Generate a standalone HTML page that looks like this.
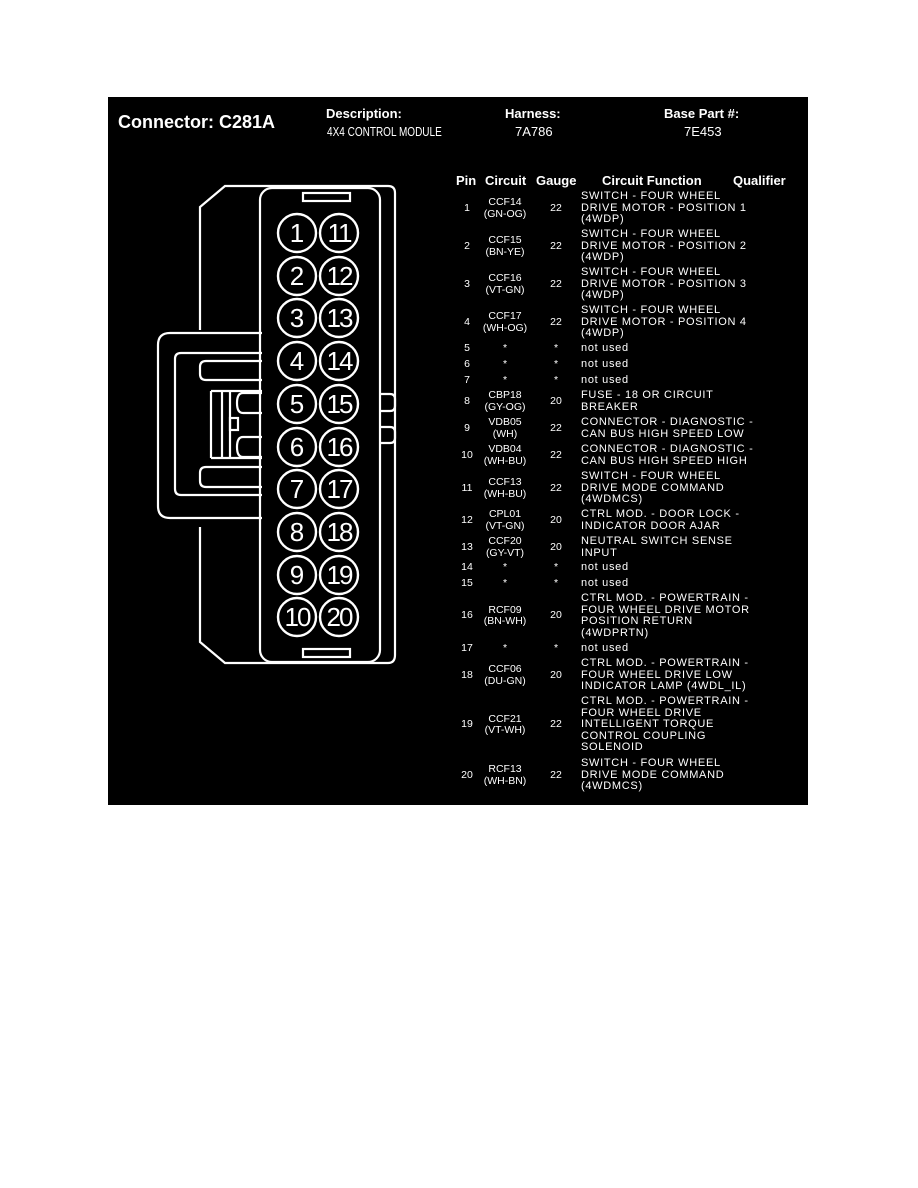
<!DOCTYPE html>
<html><head><meta charset="utf-8"><style>
body{margin:0;background:#fff;width:918px;height:1188px;position:relative;font-family:"Liberation Sans",Arial,sans-serif;}
#box{position:absolute;left:108px;top:97px;width:700px;height:708px;background:#000;color:#fff;overflow:hidden}
.t{position:absolute;white-space:nowrap}
.h{font-weight:bold;font-size:13px}
.r{position:absolute;left:0;width:700px;font-size:10.5px;line-height:11.5px}
.r div{position:absolute;top:0;bottom:0;display:flex;align-items:center;justify-content:center;text-align:center}
.r .p{left:344px;width:30px}
.r .c{left:370px;width:54px}
.r .g{left:433px;width:30px}
.r .f{left:473px;width:220px;justify-content:flex-start;text-align:left;white-space:nowrap;font-size:11px;letter-spacing:0.7px}
</style></head><body>
<div id="box">
<div class="t" style="left:10px;top:15px;font-size:18px;font-weight:bold">Connector: C281A</div>
<div class="t h" style="left:218px;top:9px">Description:</div>
<div class="t" style="left:219px;top:27px;font-size:13px;transform:scaleX(0.77);transform-origin:0 0">4X4 CONTROL MODULE</div>
<div class="t h" style="left:397px;top:9px">Harness:</div>
<div class="t" style="left:407px;top:27px;font-size:13px">7A786</div>
<div class="t h" style="left:556px;top:9px">Base Part #:</div>
<div class="t" style="left:576px;top:27px;font-size:13px">7E453</div>
<div class="t h" style="left:348px;top:76px">Pin</div>
<div class="t h" style="left:377px;top:76px">Circuit</div>
<div class="t h" style="left:428px;top:76px">Gauge</div>
<div class="t h" style="left:494px;top:76px">Circuit Function</div>
<div class="t h" style="left:625px;top:76px">Qualifier</div>

<svg style="position:absolute;left:0;top:0" width="700" height="708" viewBox="108 97 700 708" fill="none" stroke="#fff" stroke-width="2.2">
<path d="M200 330 V207 L225 186 H388 Q395 186 395 193 V655 Q395 663 388 663 H225 L200 642 V527"/>
<path d="M262 333 H170 Q158 333 158 345 V506 Q158 518 170 518 H262"/>
<path d="M262 353 H181 Q175 353 175 359 V489 Q175 495 181 495 H262"/>
<path d="M262 361 H206 Q200 361 200 367 V374 Q200 380 206 380 H262"/>
<path d="M262 467 H206 Q200 467 200 473 V481 Q200 487 206 487 H262"/>
<path d="M211 391 V458 M222 391 V458 M230 391 V458 M211 391 H262 M211 458 H262"/>
<path d="M262 393 H243 Q237 393 237 403 Q237 413 243 413 H262"/>
<path d="M262 437 H243 Q237 437 237 447 Q237 457 243 457 H262"/>
<rect x="230" y="418" width="8" height="12"/>
<rect x="260" y="188" width="120" height="474" rx="12"/>
<rect x="303" y="193" width="47" height="8"/>
<rect x="303" y="649" width="47" height="8"/>
<path d="M380 394 H390 Q395 394 395 399 V406 Q395 411 390 411 H380"/>
<path d="M380 427 H390 Q395 427 395 432 V438 Q395 443 390 443 H380"/>
<g stroke-width="2.4">
<circle cx="297" cy="233" r="19"/><circle cx="339" cy="233" r="19"/>
<circle cx="297" cy="276" r="19"/><circle cx="339" cy="276" r="19"/>
<circle cx="297" cy="318" r="19"/><circle cx="339" cy="318" r="19"/>
<circle cx="297" cy="361" r="19"/><circle cx="339" cy="361" r="19"/>
<circle cx="297" cy="404" r="19"/><circle cx="339" cy="404" r="19"/>
<circle cx="297" cy="447" r="19"/><circle cx="339" cy="447" r="19"/>
<circle cx="297" cy="489" r="19"/><circle cx="339" cy="489" r="19"/>
<circle cx="297" cy="532" r="19"/><circle cx="339" cy="532" r="19"/>
<circle cx="297" cy="575" r="19"/><circle cx="339" cy="575" r="19"/>
<circle cx="297" cy="617" r="19"/><circle cx="339" cy="617" r="19"/>
</g>
<g fill="#fff" stroke="none" font-family="Liberation Sans, Arial, sans-serif" font-size="26" text-anchor="middle">
<text x="297" y="242">1</text><text x="339" y="242" letter-spacing="-2">11</text>
<text x="297" y="285">2</text><text x="339" y="285" letter-spacing="-2">12</text>
<text x="297" y="327">3</text><text x="339" y="327" letter-spacing="-2">13</text>
<text x="297" y="370">4</text><text x="339" y="370" letter-spacing="-2">14</text>
<text x="297" y="413">5</text><text x="339" y="413" letter-spacing="-2">15</text>
<text x="297" y="456">6</text><text x="339" y="456" letter-spacing="-2">16</text>
<text x="297" y="498">7</text><text x="339" y="498" letter-spacing="-2">17</text>
<text x="297" y="541">8</text><text x="339" y="541" letter-spacing="-2">18</text>
<text x="297" y="584">9</text><text x="339" y="584" letter-spacing="-2">19</text>
<text x="297" y="626" letter-spacing="-2">10</text><text x="339" y="626" letter-spacing="-2">20</text>
</g>
</svg>

<div class="r" style="top:94px;height:35px"><div class="p">1</div><div class="c">CCF14<br>(GN-OG)</div><div class="g">22</div><div class="f">SWITCH - FOUR WHEEL<br>DRIVE MOTOR - POSITION 1<br>(4WDP)</div></div>
<div class="r" style="top:132px;height:35px"><div class="p">2</div><div class="c">CCF15<br>(BN-YE)</div><div class="g">22</div><div class="f">SWITCH - FOUR WHEEL<br>DRIVE MOTOR - POSITION 2<br>(4WDP)</div></div>
<div class="r" style="top:170px;height:35px"><div class="p">3</div><div class="c">CCF16<br>(VT-GN)</div><div class="g">22</div><div class="f">SWITCH - FOUR WHEEL<br>DRIVE MOTOR - POSITION 3<br>(4WDP)</div></div>
<div class="r" style="top:208px;height:35px"><div class="p">4</div><div class="c">CCF17<br>(WH-OG)</div><div class="g">22</div><div class="f">SWITCH - FOUR WHEEL<br>DRIVE MOTOR - POSITION 4<br>(4WDP)</div></div>
<div class="r" style="top:246px;height:12px"><div class="p">5</div><div class="c">*</div><div class="g">*</div><div class="f">not used</div></div>
<div class="r" style="top:262px;height:12px"><div class="p">6</div><div class="c">*</div><div class="g">*</div><div class="f">not used</div></div>
<div class="r" style="top:278px;height:12px"><div class="p">7</div><div class="c">*</div><div class="g">*</div><div class="f">not used</div></div>
<div class="r" style="top:293px;height:23px"><div class="p">8</div><div class="c">CBP18<br>(GY-OG)</div><div class="g">20</div><div class="f">FUSE - 18 OR CIRCUIT<br>BREAKER</div></div>
<div class="r" style="top:320px;height:23px"><div class="p">9</div><div class="c">VDB05<br>(WH)</div><div class="g">22</div><div class="f">CONNECTOR - DIAGNOSTIC -<br>CAN BUS HIGH SPEED LOW</div></div>
<div class="r" style="top:347px;height:23px"><div class="p">10</div><div class="c">VDB04<br>(WH-BU)</div><div class="g">22</div><div class="f">CONNECTOR - DIAGNOSTIC -<br>CAN BUS HIGH SPEED HIGH</div></div>
<div class="r" style="top:374px;height:35px"><div class="p">11</div><div class="c">CCF13<br>(WH-BU)</div><div class="g">22</div><div class="f">SWITCH - FOUR WHEEL<br>DRIVE MODE COMMAND<br>(4WDMCS)</div></div>
<div class="r" style="top:412px;height:23px"><div class="p">12</div><div class="c">CPL01<br>(VT-GN)</div><div class="g">20</div><div class="f">CTRL MOD. - DOOR LOCK -<br>INDICATOR DOOR AJAR</div></div>
<div class="r" style="top:439px;height:23px"><div class="p">13</div><div class="c">CCF20<br>(GY-VT)</div><div class="g">20</div><div class="f">NEUTRAL SWITCH SENSE<br>INPUT</div></div>
<div class="r" style="top:465px;height:12px"><div class="p">14</div><div class="c">*</div><div class="g">*</div><div class="f">not used</div></div>
<div class="r" style="top:481px;height:12px"><div class="p">15</div><div class="c">*</div><div class="g">*</div><div class="f">not used</div></div>
<div class="r" style="top:496px;height:46px"><div class="p">16</div><div class="c">RCF09<br>(BN-WH)</div><div class="g">20</div><div class="f">CTRL MOD. - POWERTRAIN -<br>FOUR WHEEL DRIVE MOTOR<br>POSITION RETURN<br>(4WDPRTN)</div></div>
<div class="r" style="top:546px;height:12px"><div class="p">17</div><div class="c">*</div><div class="g">*</div><div class="f">not used</div></div>
<div class="r" style="top:561px;height:35px"><div class="p">18</div><div class="c">CCF06<br>(DU-GN)</div><div class="g">20</div><div class="f">CTRL MOD. - POWERTRAIN -<br>FOUR WHEEL DRIVE LOW<br>INDICATOR LAMP (4WDL_IL)</div></div>
<div class="r" style="top:599px;height:58px"><div class="p">19</div><div class="c">CCF21<br>(VT-WH)</div><div class="g">22</div><div class="f">CTRL MOD. - POWERTRAIN -<br>FOUR WHEEL DRIVE<br>INTELLIGENT TORQUE<br>CONTROL COUPLING<br>SOLENOID</div></div>
<div class="r" style="top:661px;height:35px"><div class="p">20</div><div class="c">RCF13<br>(WH-BN)</div><div class="g">22</div><div class="f">SWITCH - FOUR WHEEL<br>DRIVE MODE COMMAND<br>(4WDMCS)</div></div>
</div>
</body></html>
